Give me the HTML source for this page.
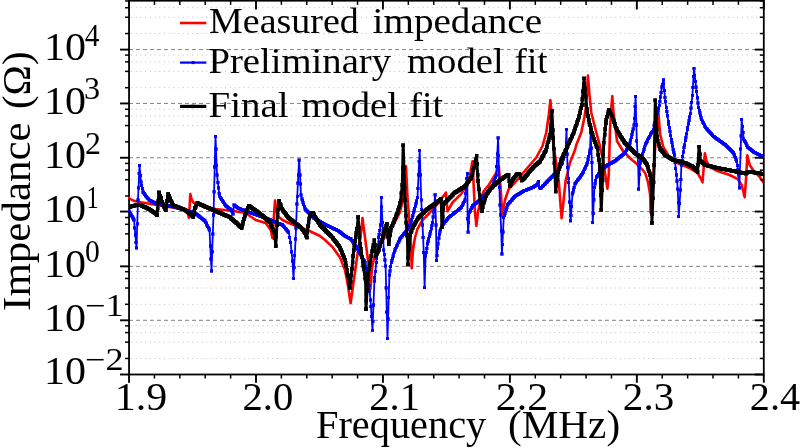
<!DOCTYPE html>
<html lang="en"><head><meta charset="utf-8"><title>Impedance vs frequency</title>
<style>html,body{margin:0;padding:0;background:#fff}svg{display:block}text{font-family:"Liberation Serif",serif;fill:#000}</style></head><body>
<svg width="800" height="448" viewBox="0 0 800 448">
<rect width="800" height="448" fill="#fff"/>
<defs><marker id="mb" markerUnits="userSpaceOnUse" markerWidth="3.4" markerHeight="3.4" refX="1.7" refY="1.7"><rect width="3.4" height="3.4" fill="#0000ff"/></marker><marker id="mk" markerUnits="userSpaceOnUse" markerWidth="4" markerHeight="4" refX="2" refY="2"><rect width="4" height="4" fill="#000"/></marker><clipPath id="cp"><rect x="129.05" y="0" width="634.75" height="374.50"/></clipPath></defs>
<g stroke="#c0c0c0" stroke-width="1" stroke-dasharray="1 3.7" fill="none">
<line x1="131.05" y1="358.45" x2="763.80" y2="358.45"/>
<line x1="131.05" y1="342.15" x2="763.80" y2="342.15"/>
<line x1="131.05" y1="332.61" x2="763.80" y2="332.61"/>
<line x1="131.05" y1="325.85" x2="763.80" y2="325.85"/>
<line x1="131.05" y1="304.30" x2="763.80" y2="304.30"/>
<line x1="131.05" y1="288.00" x2="763.80" y2="288.00"/>
<line x1="131.05" y1="278.46" x2="763.80" y2="278.46"/>
<line x1="131.05" y1="271.70" x2="763.80" y2="271.70"/>
<line x1="131.05" y1="250.15" x2="763.80" y2="250.15"/>
<line x1="131.05" y1="233.85" x2="763.80" y2="233.85"/>
<line x1="131.05" y1="224.31" x2="763.80" y2="224.31"/>
<line x1="131.05" y1="217.55" x2="763.80" y2="217.55"/>
<line x1="131.05" y1="196.00" x2="763.80" y2="196.00"/>
<line x1="131.05" y1="179.70" x2="763.80" y2="179.70"/>
<line x1="131.05" y1="170.16" x2="763.80" y2="170.16"/>
<line x1="131.05" y1="163.40" x2="763.80" y2="163.40"/>
<line x1="131.05" y1="141.85" x2="763.80" y2="141.85"/>
<line x1="131.05" y1="125.55" x2="763.80" y2="125.55"/>
<line x1="131.05" y1="116.01" x2="763.80" y2="116.01"/>
<line x1="131.05" y1="109.25" x2="763.80" y2="109.25"/>
<line x1="131.05" y1="87.70" x2="763.80" y2="87.70"/>
<line x1="131.05" y1="71.40" x2="763.80" y2="71.40"/>
<line x1="131.05" y1="61.86" x2="763.80" y2="61.86"/>
<line x1="131.05" y1="55.10" x2="763.80" y2="55.10"/>
<line x1="131.05" y1="33.55" x2="763.80" y2="33.55"/>
<line x1="131.05" y1="17.25" x2="763.80" y2="17.25"/>
<line x1="131.05" y1="7.71" x2="763.80" y2="7.71"/>
</g>
<g stroke="#808080" stroke-width="1" stroke-dasharray="3.9 3.1" fill="none">
<line x1="129.05" y1="320.30" x2="763.80" y2="320.30"/>
<line x1="129.05" y1="266.35" x2="763.80" y2="266.35"/>
<line x1="129.05" y1="211.55" x2="763.80" y2="211.55"/>
<line x1="129.05" y1="157.75" x2="763.80" y2="157.75"/>
<line x1="129.05" y1="103.45" x2="763.80" y2="103.45"/>
<line x1="129.05" y1="49.60" x2="763.80" y2="49.60"/>
</g>
<g clip-path="url(#cp)" fill="none" stroke-linejoin="round">
<polyline points="129.00,198.0 133.00,200.5 139.00,202.0 145.00,203.0 160.00,205.5 175.00,208.0 185.00,210.0 187.50,212.0 189.00,217.8 190.30,194.0 191.50,199.0 193.00,202.0 195.40,204.0 205.00,206.5 215.50,209.0 233.50,211.0 245.60,213.0 255.70,220.0 265.70,223.0 270.70,230.0 272.50,238.2 275.00,200.6 277.50,216.0 282.50,220.0 288.80,223.0 295.00,225.6 307.50,230.0 320.00,236.0 325.00,240.0 332.50,247.0 340.00,257.5 345.00,270.0 348.00,286.0 350.60,303.2 353.75,281.0 357.50,254.0 361.25,231.0 362.50,218.1 365.00,237.5 368.00,260.0 370.00,275.0 370.50,288.8 371.90,269.0 374.40,256.0 378.00,248.0 383.00,240.0 386.50,234.0 390.00,230.0 395.00,222.0 400.00,212.0 403.00,200.0 405.00,180.0 406.00,166.2 407.50,197.5 409.40,222.5 410.60,235.0 411.70,268.2 413.00,250.0 415.00,237.5 417.50,228.8 422.50,220.0 430.00,212.5 437.50,204.0 445.00,194.0 446.00,192.5 447.50,211.3 452.50,202.5 461.25,193.8 467.50,185.0 470.50,172.0 472.50,161.2 473.75,187.5 475.00,212.5 476.40,225.8 478.00,212.0 480.00,203.0 483.75,191.0 488.75,185.0 495.00,175.0 497.50,170.0 498.75,166.0 500.60,187.5 502.30,216.3 505.00,200.0 508.75,188.8 515.00,182.5 520.00,177.0 526.00,169.5 532.50,162.0 536.25,157.5 542.50,146.0 546.25,132.5 548.75,115.0 550.40,100.0 552.00,120.0 554.00,150.0 556.25,162.5 558.75,181.0 560.60,206.0 561.60,218.2 563.00,206.0 565.60,181.0 570.00,162.5 575.00,150.0 576.25,145.0 581.25,132.5 584.40,117.5 586.25,105.0 587.90,75.6 589.50,95.0 591.25,112.5 595.00,127.5 600.00,146.2 603.00,160.0 606.25,181.0 607.40,188.8 608.75,175.0 610.00,130.0 611.50,105.0 612.30,96.0 613.20,110.0 614.40,120.0 617.00,141.0 623.00,151.0 631.00,159.0 639.20,166.0 645.20,173.0 648.20,183.0 650.20,195.0 650.60,212.6 652.50,190.0 655.00,150.0 657.00,125.0 658.30,110.5 659.30,125.0 660.30,135.0 663.30,147.0 669.30,157.0 677.40,163.0 689.40,168.0 697.50,173.0 700.50,178.0 702.50,182.3 703.90,165.0 704.90,153.2 706.50,161.0 709.50,167.0 717.60,171.0 729.60,175.0 737.70,179.0 741.70,185.0 744.70,197.2 746.30,175.0 747.30,155.2 749.70,165.0 753.70,171.0 759.80,177.0 763.80,183.0" stroke="#ff0000" stroke-width="2.6"/>
<polyline points="129.00,211.0 129.63,212.1 130.27,213.3 130.90,214.4 131.54,215.6 132.17,216.7 132.81,217.9 133.44,219.0 134.00,220.0 134.71,228.0 135.35,235.1 135.98,242.2 136.50,247.9 137.25,223.8 138.00,200.0 138.52,187.9 139.16,173.2 139.50,165.4 140.43,175.7 141.00,182.0 141.70,185.5 142.33,188.7 143.00,192.0 143.60,192.8 144.24,193.7 144.87,194.5 145.51,195.3 146.14,196.2 146.78,197.0 147.41,197.9 148.05,198.7 149.00,200.0 149.95,200.5 150.59,200.8 151.22,201.1 151.86,201.4 152.49,201.7 153.13,202.1 153.76,202.4 154.40,202.7 155.03,203.0 155.67,203.3 156.30,203.7 157.00,204.0 157.57,204.1 158.21,204.2 158.84,204.3 159.48,204.4 160.11,204.5 160.75,204.6 161.38,204.7 162.02,204.8 162.65,204.9 163.29,205.0 163.92,205.2 164.56,205.3 165.19,205.4 165.83,205.5 166.46,205.6 167.10,205.7 167.73,205.8 168.37,205.9 169.00,206.0 169.64,206.1 170.27,206.2 170.91,206.3 171.54,206.4 172.18,206.5 172.81,206.6 173.45,206.7 174.08,206.8 175.00,207.0 175.35,207.1 175.99,207.3 176.62,207.5 177.26,207.7 177.89,207.9 178.53,208.1 179.16,208.2 179.80,208.4 180.43,208.6 181.07,208.8 181.70,209.0 182.34,209.2 182.97,209.4 183.61,209.6 184.24,209.8 184.88,210.0 185.51,210.2 186.15,210.3 186.78,210.5 187.42,210.7 188.05,210.9 188.69,211.1 189.32,211.3 189.96,211.5 190.59,211.7 191.23,211.9 191.86,212.1 192.50,212.2 193.13,212.4 193.77,212.6 194.40,212.8 195.00,213.0 195.67,213.5 196.31,214.0 196.94,214.6 197.58,215.1 198.21,215.6 198.85,216.1 199.48,216.6 200.12,217.1 200.75,217.6 201.39,218.1 202.02,218.6 202.66,219.1 203.29,219.6 203.93,220.1 204.56,220.7 205.00,221.0 205.83,222.7 206.47,223.9 207.10,225.2 207.74,226.5 208.37,227.7 209.01,229.0 209.50,230.0 210.28,246.0 210.91,259.0 211.50,271.0 212.18,251.8 212.82,234.0 213.50,215.0 214.09,191.8 214.72,166.9 215.50,136.4 215.99,149.1 216.63,165.5 217.00,175.0 217.90,182.6 218.53,187.9 219.17,193.2 219.50,196.0 220.44,197.5 221.07,198.5 221.71,199.5 222.34,200.5 222.98,201.5 223.61,202.5 224.25,203.5 224.88,204.5 225.50,205.5 226.15,206.0 226.79,206.5 227.42,206.9 228.06,207.4 228.69,207.9 229.33,208.4 229.96,208.8 230.60,209.3 231.50,210.0 231.87,211.0 232.50,212.7 233.00,214.0 234.00,205.0 234.41,205.3 235.04,205.8 235.68,206.3 236.31,206.7 236.95,207.2 237.58,207.7 238.00,208.0 238.85,208.3 239.49,208.6 240.12,208.8 240.76,209.1 241.39,209.3 242.03,209.6 242.66,209.8 243.30,210.1 243.93,210.3 244.57,210.6 245.20,210.8 245.60,211.0 246.47,211.3 247.11,211.5 247.74,211.7 248.38,212.0 249.01,212.2 249.65,212.4 250.28,212.6 250.92,212.9 251.55,213.1 252.19,213.3 252.82,213.5 253.46,213.7 254.09,214.0 254.73,214.2 255.36,214.4 256.00,214.6 256.63,214.8 257.27,215.1 257.90,215.3 258.54,215.5 259.17,215.7 259.81,215.9 260.44,216.2 261.08,216.4 261.71,216.6 262.35,216.8 262.98,217.1 263.62,217.3 264.25,217.5 264.89,217.7 265.70,218.0 266.16,218.2 266.79,218.5 267.43,218.7 268.06,219.0 268.70,219.3 269.33,219.6 269.97,219.8 270.60,220.1 271.24,220.4 271.87,220.7 272.51,220.9 273.14,221.2 273.78,221.5 274.41,221.7 275.00,222.0 275.68,222.3 276.32,222.5 276.95,222.8 277.59,223.0 278.22,223.3 278.86,223.5 279.49,223.8 280.13,224.1 280.76,224.3 281.40,224.6 282.03,224.8 282.50,225.0 283.30,226.0 283.94,226.7 284.57,227.5 285.21,228.2 285.84,229.0 286.48,229.7 287.11,230.5 287.75,231.2 288.38,232.0 288.80,232.5 289.65,237.2 290.60,242.5 291.56,251.8 292.50,261.0 293.50,278.6 294.10,267.3 294.73,255.3 295.60,239.0 296.00,228.1 296.90,204.0 297.27,196.2 297.91,183.1 298.30,175.0 299.10,160.1 300.00,175.0 300.45,184.0 301.00,195.0 302.00,199.0 302.35,200.2 302.99,202.2 303.62,204.3 304.26,206.4 305.00,208.8 305.53,209.4 306.16,210.1 307.00,211.0 307.43,211.4 308.07,212.1 308.70,212.8 309.34,213.4 309.97,214.1 310.61,214.7 311.24,215.4 311.88,216.0 312.51,216.7 313.15,217.3 313.80,218.0 314.42,218.4 315.05,218.7 315.69,219.1 316.32,219.4 316.96,219.8 317.59,220.2 318.23,220.5 318.86,220.9 319.50,221.3 320.13,221.6 320.77,222.0 321.40,222.4 322.04,222.7 322.67,223.1 323.31,223.5 323.94,223.8 324.58,224.2 325.21,224.5 326.00,225.0 326.48,225.2 327.12,225.5 327.75,225.8 328.39,226.1 329.02,226.4 329.66,226.7 330.29,227.0 330.93,227.3 331.56,227.6 332.20,227.9 332.83,228.2 333.47,228.5 334.10,228.8 334.74,229.1 335.37,229.4 336.01,229.7 336.64,230.0 337.28,230.3 337.91,230.6 338.80,231.0 339.18,231.3 339.82,231.8 340.45,232.3 341.09,232.8 341.72,233.4 342.36,233.9 342.99,234.4 343.63,234.9 344.26,235.4 345.00,236.0 345.53,236.3 346.17,236.6 346.80,236.9 347.44,237.2 348.07,237.5 348.71,237.9 349.34,238.2 349.98,238.5 350.61,238.8 351.00,239.0 351.88,240.3 352.52,241.3 353.15,242.2 353.79,243.2 354.42,244.1 355.06,245.1 355.69,246.0 356.33,247.0 356.96,247.9 357.50,248.8 358.23,250.1 358.87,251.3 359.50,252.4 360.14,253.6 360.77,254.8 361.41,255.9 362.04,257.1 362.68,258.2 363.31,259.4 363.95,260.6 364.58,261.7 365.00,262.5 365.85,266.1 366.49,268.7 367.12,271.4 368.00,275.0 368.39,278.9 369.03,285.3 369.66,291.6 370.50,300.0 370.93,306.6 371.57,316.2 372.50,330.2 372.84,321.4 373.47,305.0 374.40,281.0 374.74,277.6 375.38,271.2 376.25,262.5 376.65,258.5 377.28,252.2 377.92,245.8 378.75,237.5 379.19,234.5 379.82,230.2 380.60,225.0 381.25,197.3 381.73,207.0 382.50,222.5 383.00,233.5 383.75,250.0 384.27,254.5 384.90,260.0 385.60,266.0 386.17,287.9 386.81,312.1 387.50,338.4 388.08,319.0 388.71,297.8 389.40,275.0 389.98,271.0 390.62,266.8 391.25,262.5 391.89,260.4 392.52,258.3 393.16,256.1 393.79,254.0 394.43,251.9 395.00,250.0 395.70,248.4 396.33,247.0 396.97,245.6 397.60,244.1 398.24,242.7 398.87,241.3 399.51,239.9 400.00,238.8 400.78,237.8 401.41,237.0 402.05,236.2 402.68,235.4 403.32,234.6 403.95,233.8 404.59,233.1 405.22,232.3 405.86,231.5 406.25,231.0 407.13,229.6 407.76,228.6 408.40,227.6 409.03,226.5 409.67,225.5 410.00,225.0 410.94,221.9 411.57,219.8 412.21,217.6 412.84,215.5 413.75,212.5 414.11,211.0 414.75,208.5 415.38,206.0 416.02,203.4 416.65,200.9 417.50,197.5 417.92,188.4 418.56,174.8 419.19,161.2 419.70,150.4 420.46,174.9 421.25,200.0 421.73,209.7 422.50,225.0 423.10,237.5 423.75,252.5 424.60,287.6 425.60,256.0 426.18,252.3 426.81,248.2 427.50,243.8 428.08,241.4 428.72,238.9 429.35,236.3 429.99,233.8 430.62,231.3 431.25,228.8 431.89,225.5 432.50,222.5 433.16,216.9 433.75,212.0 434.43,203.3 435.10,194.8 436.00,225.0 436.50,260.6 436.97,255.3 437.61,248.1 438.00,243.8 438.88,238.1 439.51,234.1 440.00,231.0 440.78,229.1 441.42,227.6 442.05,226.1 442.50,225.0 443.32,224.0 443.96,223.2 444.59,222.5 445.23,221.7 445.86,221.0 446.50,220.2 447.13,219.4 447.77,218.7 448.40,217.9 448.75,217.5 449.67,216.8 450.31,216.3 450.94,215.7 451.58,215.2 452.21,214.7 452.85,214.2 453.48,213.7 454.12,213.2 454.75,212.7 455.39,212.2 456.02,211.7 456.66,211.2 457.29,210.7 457.93,210.2 458.56,209.6 459.20,209.1 459.83,208.6 460.47,208.1 461.25,207.5 461.74,206.5 462.37,205.3 463.01,204.0 463.64,202.7 464.28,201.4 465.00,200.0 465.55,193.5 466.18,186.0 466.82,178.5 467.25,173.4 467.60,218.8 468.10,232.1 468.72,222.7 469.40,212.5 469.99,211.3 470.63,209.9 471.26,208.6 471.90,207.3 472.50,206.0 473.17,205.5 473.80,205.0 474.44,204.4 475.07,203.9 475.71,203.4 476.34,202.9 476.98,202.4 477.61,201.9 478.25,201.4 478.88,200.9 479.52,200.4 480.00,200.0 480.79,199.2 481.42,198.6 482.06,197.9 482.69,197.3 483.33,196.7 483.96,196.0 484.60,195.4 485.23,194.8 485.87,194.1 486.25,193.8 487.14,192.7 487.77,191.9 488.41,191.2 489.04,190.4 489.68,189.6 490.31,188.9 490.95,188.1 491.58,187.3 492.50,186.2 492.85,185.2 493.49,183.3 494.12,181.4 494.76,179.5 495.39,177.6 496.25,175.0 496.66,166.7 497.30,153.9 498.10,137.9 498.57,155.8 499.40,187.5 500.00,205.0 500.47,214.9 501.25,231.0 501.90,254.0 502.38,244.5 503.01,232.0 503.75,217.5 504.28,215.7 504.92,213.6 505.55,211.5 506.19,209.4 506.82,207.3 507.50,205.0 508.09,204.3 508.73,203.6 509.36,202.8 510.00,202.1 510.63,201.3 511.27,200.6 511.90,199.9 512.54,199.1 513.17,198.4 513.81,197.6 514.44,196.9 515.00,196.2 515.71,195.8 516.35,195.4 516.98,195.1 517.62,194.7 518.25,194.3 518.89,193.9 519.52,193.5 520.16,193.2 520.79,192.8 521.43,192.4 522.06,192.0 522.70,191.6 523.33,191.2 523.75,191.0 524.60,190.7 525.24,190.4 525.87,190.2 526.51,189.9 527.14,189.6 527.78,189.4 528.41,189.1 529.05,188.9 529.68,188.6 530.32,188.4 530.95,188.1 531.59,187.9 532.50,187.5 532.86,187.3 533.49,186.9 534.13,186.5 534.76,186.1 535.40,185.8 536.03,185.4 536.67,185.0 537.50,184.5 537.94,183.0 538.40,181.5 539.50,187.5 539.84,187.8 540.50,188.5 541.11,187.9 541.75,187.2 542.38,186.6 543.02,185.9 543.65,185.3 544.29,184.6 544.92,184.0 545.56,183.3 546.19,182.7 546.83,182.0 547.46,181.4 548.10,180.7 548.73,180.1 549.37,179.4 550.00,178.8 550.64,178.1 551.25,177.5 551.91,176.8 552.54,176.2 553.18,175.6 553.81,174.9 554.45,174.3 555.08,173.7 555.72,173.0 556.35,172.4 556.99,171.8 557.50,171.2 558.26,169.9 558.89,168.8 559.53,167.7 560.16,166.6 560.80,165.5 561.43,164.4 562.07,163.3 562.50,162.5 563.34,159.1 563.97,156.6 564.61,154.0 565.24,151.4 565.60,150.0 566.50,129.2 567.15,154.1 567.50,167.5 568.42,178.5 568.75,182.5 569.69,202.0 570.60,220.8 570.96,215.7 571.59,206.7 572.50,193.8 572.86,192.3 573.50,189.8 574.13,187.2 575.00,183.8 575.40,183.2 576.04,182.4 576.67,181.5 577.31,180.7 577.94,179.8 578.58,179.0 579.21,178.1 579.85,177.3 580.48,176.4 581.12,175.6 581.75,174.7 582.50,173.8 583.02,172.6 583.66,171.1 584.29,169.7 584.93,168.3 585.56,166.9 586.20,165.4 586.83,164.0 587.50,162.5 588.10,159.5 588.74,156.3 589.37,153.1 590.00,150.0 590.60,132.4 591.28,148.1 591.90,162.5 592.75,222.6 593.18,213.3 593.82,199.8 594.40,187.5 595.09,183.8 595.72,180.3 596.25,177.5 596.99,176.4 597.63,175.4 598.26,174.5 598.90,173.5 599.53,172.6 600.17,171.6 600.80,170.7 601.25,170.0 602.07,169.3 602.71,168.8 603.34,168.3 603.98,167.8 604.61,167.3 605.25,166.8 605.88,166.3 606.52,165.8 607.15,165.3 607.50,165.0 608.42,164.5 609.06,164.2 609.69,163.8 610.33,163.5 610.96,163.2 611.60,162.8 612.23,162.5 612.87,162.1 613.50,161.8 614.14,161.5 615.00,161.0 615.41,160.7 616.04,160.2 616.68,159.7 617.31,159.1 617.95,158.6 618.58,158.1 619.22,157.6 619.85,157.1 620.49,156.6 621.12,156.1 621.76,155.6 622.39,155.1 623.03,154.6 623.66,154.1 624.30,153.6 625.00,153.0 625.57,151.9 626.20,150.6 626.84,149.3 627.47,148.1 628.11,146.8 628.74,145.5 629.38,144.2 630.00,143.0 630.65,140.1 631.28,137.4 631.92,134.6 632.55,131.8 633.19,129.0 634.10,125.0 634.46,118.2 635.09,106.2 635.60,96.6 636.36,124.9 636.80,141.0 637.63,155.3 638.20,165.0 638.70,189.1 639.54,174.5 640.20,163.0 640.81,160.8 641.44,158.5 642.08,156.2 642.71,153.9 643.35,151.7 643.98,149.4 644.62,147.1 645.20,145.0 645.89,143.7 646.52,142.4 647.16,141.2 647.79,139.9 648.43,138.7 649.06,137.5 649.70,136.2 650.33,135.0 650.97,133.7 651.60,132.5 652.24,131.3 653.20,129.4 654.14,125.7 654.78,123.1 655.41,120.6 656.05,118.1 656.68,115.6 657.32,113.1 657.95,110.6 658.59,108.1 659.30,105.2 659.86,101.3 660.49,96.9 661.13,92.4 661.90,87.0 662.40,84.5 663.30,79.9 663.67,83.8 664.30,90.6 664.94,97.4 665.30,101.2 666.21,107.3 666.84,111.6 667.48,115.8 668.30,121.3 668.75,124.0 669.38,127.8 670.02,131.7 670.65,135.5 671.30,139.4 671.92,142.6 672.56,146.0 673.19,149.3 673.83,152.6 674.30,155.0 675.10,162.6 675.73,168.7 676.40,175.0 677.00,181.0 677.80,189.0 678.27,202.7 678.75,216.5 679.54,203.7 680.40,190.0 680.81,179.6 681.40,165.0 682.08,160.4 682.72,156.2 683.35,152.0 683.99,147.7 684.40,145.0 685.26,140.5 685.89,137.2 686.53,133.9 687.40,129.4 687.80,127.3 688.43,123.8 689.07,120.4 689.70,117.0 690.40,113.3 690.97,108.1 691.61,102.3 692.40,95.2 692.88,87.2 693.51,76.5 694.00,68.4 694.78,75.6 695.42,81.4 696.05,87.1 696.50,91.2 697.32,97.8 697.96,103.0 698.50,107.3 699.23,110.2 699.86,112.8 700.50,115.3 701.13,117.8 701.50,119.3 702.40,121.1 703.04,122.4 703.67,123.7 704.31,125.0 704.94,126.3 705.50,127.4 706.21,128.2 706.85,128.9 707.48,129.6 708.12,130.3 708.75,131.1 709.39,131.8 710.02,132.5 710.66,133.2 711.29,133.9 711.93,134.6 712.56,135.3 713.50,136.4 713.83,136.6 714.47,137.1 715.10,137.5 715.74,138.0 716.37,138.4 717.01,138.9 717.64,139.3 718.28,139.8 718.91,140.2 719.55,140.7 720.18,141.2 720.82,141.6 721.45,142.1 722.09,142.5 722.72,143.0 723.36,143.4 723.99,143.9 724.63,144.3 725.26,144.8 725.60,145.0 726.53,145.9 727.17,146.6 727.80,147.2 728.44,147.8 729.07,148.5 729.71,149.1 730.34,149.7 730.98,150.4 731.61,151.0 732.25,151.6 732.88,152.3 733.60,153.0 734.15,154.4 734.79,156.1 735.42,157.7 736.06,159.3 736.70,161.0 737.33,165.4 737.96,169.9 738.70,175.0 739.30,187.9 739.87,172.1 740.70,149.0 741.14,135.9 741.70,119.3 742.41,126.3 743.04,132.5 743.70,139.0 744.31,140.2 744.95,141.5 745.58,142.8 746.22,144.0 746.85,145.3 747.70,147.0 748.12,147.4 748.76,147.9 749.39,148.4 750.03,148.9 750.66,149.5 751.30,150.0 751.93,150.5 752.57,151.1 753.20,151.6 753.70,152.0 754.47,152.4 755.11,152.7 755.74,153.0 756.38,153.3 757.01,153.6 757.65,154.0 758.28,154.3 758.92,154.6 759.55,154.9 760.19,155.2 760.82,155.5 761.46,155.8 762.09,156.2 762.73,156.5 763.36,156.8 763.80,157.0" stroke="#0000ff" stroke-width="1.8" marker-start="url(#mb)" marker-mid="url(#mb)" marker-end="url(#mb)"/>
<polyline points="129.00,207.0 129.63,206.8 130.27,206.7 130.90,206.5 131.54,206.4 132.17,206.2 132.81,206.0 133.44,205.9 134.08,205.7 134.71,205.6 135.35,205.4 135.98,205.3 136.62,205.1 137.25,204.9 137.89,204.8 138.52,204.6 139.00,204.5 139.79,204.9 140.43,205.1 141.06,205.4 141.70,205.7 142.33,206.0 142.97,206.3 143.60,206.6 144.24,206.9 144.87,207.1 145.51,207.4 146.14,207.7 146.78,208.0 147.41,208.3 148.05,208.6 149.00,209.0 149.95,209.6 150.59,210.1 151.22,210.5 151.86,210.9 152.49,211.3 153.13,211.8 153.76,212.2 154.40,212.6 155.00,213.0 155.67,213.7 156.30,214.3 157.00,215.0 157.57,208.5 158.21,201.3 159.00,192.4 159.48,193.7 160.11,195.5 161.00,198.0 161.38,199.3 162.02,201.6 162.65,203.8 163.00,205.0 163.92,206.7 164.56,207.8 165.19,208.9 165.80,210.0 166.46,205.5 167.10,201.1 167.73,196.8 168.20,193.6 169.00,196.0 169.64,197.9 170.00,199.0 170.91,200.8 171.54,202.1 172.18,203.4 173.00,205.0 173.45,205.2 174.08,205.5 174.72,205.7 175.35,206.0 175.99,206.3 176.62,206.6 177.26,206.8 177.89,207.1 178.53,207.4 179.16,207.6 180.00,208.0 180.43,208.2 181.07,208.4 181.70,208.7 182.34,208.9 182.97,209.2 183.61,209.4 184.24,209.7 185.00,210.0 185.51,210.4 186.15,210.8 186.78,211.2 187.42,211.7 188.05,212.1 188.69,212.6 189.32,213.0 190.00,213.5 190.59,214.1 191.23,214.8 191.86,215.5 192.50,216.2 193.30,217.0 193.77,214.5 194.40,211.2 195.00,208.0 195.67,206.6 196.31,205.3 196.94,203.9 197.40,203.0 198.21,203.4 198.85,203.7 199.48,204.0 200.12,204.3 200.75,204.5 201.39,204.8 202.02,205.1 202.66,205.4 203.29,205.7 203.93,206.0 204.56,206.3 205.00,206.5 205.83,206.9 206.47,207.1 207.10,207.4 207.74,207.7 208.37,207.9 209.01,208.2 209.64,208.5 210.28,208.8 210.91,209.0 211.55,209.3 212.18,209.6 212.82,209.9 213.45,210.1 214.09,210.4 214.72,210.7 215.50,211.0 215.99,211.2 216.63,211.5 217.26,211.8 217.90,212.0 218.53,212.3 219.17,212.6 219.80,212.8 220.44,213.1 221.07,213.4 221.71,213.7 222.34,213.9 222.98,214.2 223.61,214.5 224.25,214.7 224.88,215.0 225.52,215.3 226.15,215.6 226.79,215.8 227.42,216.1 228.06,216.4 228.69,216.7 229.50,217.0 229.96,217.4 230.60,218.0 231.23,218.5 231.87,219.0 232.50,219.6 233.14,220.1 233.77,220.7 234.41,221.2 235.04,221.8 235.68,222.3 236.31,222.9 236.95,223.4 237.60,224.0 238.22,224.6 238.85,225.3 239.49,225.9 240.12,226.5 240.76,227.2 241.60,228.0 242.03,226.4 242.66,223.9 243.30,221.5 243.93,219.1 244.57,216.6 245.00,215.0 245.84,212.8 246.47,211.2 247.11,209.5 247.74,207.9 248.60,205.7 249.01,206.0 249.65,206.4 250.28,206.8 250.92,207.3 251.55,207.7 252.19,208.1 252.82,208.5 253.46,209.0 254.09,209.4 255.00,210.0 255.36,210.3 256.00,210.7 256.63,211.2 257.27,211.7 257.90,212.2 258.54,212.6 259.17,213.1 259.81,213.6 260.44,214.1 261.08,214.5 261.70,215.0 262.35,215.6 262.98,216.1 263.62,216.7 264.25,217.2 264.89,217.8 265.52,218.3 266.16,218.9 266.79,219.5 267.43,220.0 268.06,220.6 268.70,221.1 269.33,221.7 269.70,222.0 270.60,224.2 271.24,225.7 271.87,227.2 272.51,228.7 273.14,230.3 273.78,231.8 274.70,234.0 275.05,237.8 275.80,246.0 276.32,236.5 276.95,224.9 277.50,215.0 278.22,209.0 278.86,203.7 279.20,200.9 280.13,203.5 280.76,205.2 281.40,207.0 282.03,208.7 282.50,210.0 283.30,211.0 283.94,211.8 284.57,212.6 285.21,213.4 285.84,214.2 286.48,215.1 287.11,215.9 287.75,216.7 288.38,217.5 288.80,218.0 289.65,218.7 290.29,219.2 290.92,219.7 291.56,220.1 292.19,220.6 292.83,221.1 293.46,221.6 294.10,222.1 294.73,222.6 295.37,223.1 296.00,223.6 296.64,224.1 297.27,224.6 297.91,225.1 298.54,225.6 299.18,226.1 299.81,226.6 300.45,227.1 301.00,227.5 301.72,228.5 302.35,229.4 302.99,230.2 303.62,231.1 304.26,232.0 305.00,233.0 305.53,234.3 306.16,235.8 306.90,237.5 307.43,232.3 308.07,226.2 308.50,222.0 309.34,218.4 309.97,215.7 310.60,213.0 311.24,213.0 311.88,213.0 312.51,213.0 313.00,213.0 313.78,214.3 314.42,215.4 315.05,216.5 315.69,217.6 316.32,218.7 316.96,219.8 317.59,220.9 318.23,222.0 318.86,223.1 319.50,224.1 320.00,225.0 320.77,225.8 321.40,226.4 322.04,227.0 322.67,227.7 323.31,228.3 323.94,228.9 324.58,229.6 325.00,230.0 325.85,230.8 326.48,231.5 327.12,232.1 327.75,232.8 328.39,233.4 329.02,234.0 329.66,234.7 330.29,235.3 330.93,235.9 331.56,236.6 332.50,237.5 332.83,237.9 333.47,238.8 334.10,239.6 334.74,240.5 335.37,241.3 336.01,242.2 336.64,243.0 337.28,243.9 337.91,244.7 338.55,245.6 339.18,246.4 340.00,247.5 340.45,248.6 341.09,250.2 341.72,251.8 342.36,253.4 342.99,255.0 343.63,256.6 344.26,258.2 345.00,260.0 345.53,262.8 346.17,266.2 346.80,269.5 347.44,272.8 348.07,276.2 348.80,280.0 349.34,283.6 350.00,287.9 350.61,281.7 351.25,275.3 351.88,268.8 352.52,262.4 353.15,256.0 353.75,250.0 354.42,245.5 355.06,241.3 355.69,237.0 356.33,232.8 356.96,228.6 357.50,225.0 358.10,217.1 358.87,227.9 359.50,236.8 360.00,243.8 360.77,248.9 361.41,253.1 362.04,257.4 362.68,261.6 363.31,265.8 363.75,268.8 364.58,274.3 365.22,278.5 365.60,281.0 366.00,309.1 366.49,300.7 367.12,289.9 368.00,275.0 368.39,272.7 369.03,269.0 369.66,265.3 370.30,261.6 371.25,256.0 372.20,251.2 372.84,248.1 373.47,244.9 374.40,240.2 374.74,244.8 375.60,256.0 376.01,255.2 376.65,254.0 377.28,252.8 377.92,251.6 378.75,250.0 379.19,248.5 379.82,246.4 380.46,244.3 381.09,242.2 381.73,240.1 382.50,237.5 383.00,235.8 383.63,233.6 384.27,231.5 385.00,229.0 385.54,227.5 386.17,225.8 386.90,223.8 387.44,229.7 388.08,236.7 388.75,244.1 389.35,239.8 389.98,235.3 390.62,230.7 391.00,228.0 391.89,226.2 392.50,225.0 393.16,223.4 393.79,221.8 394.43,220.2 395.06,218.6 395.70,217.0 396.33,215.4 396.97,213.8 397.50,212.5 398.24,209.8 398.87,207.4 399.51,205.0 400.14,202.7 400.60,201.0 401.41,193.3 402.30,185.0 402.68,168.0 403.20,145.2 403.95,168.2 404.59,187.5 405.00,200.0 405.86,215.5 406.25,222.5 407.13,235.5 407.50,241.0 407.90,264.5 408.40,257.6 409.03,248.8 409.40,243.8 410.00,235.0 410.94,232.4 411.57,230.6 412.50,228.0 412.84,227.4 413.48,226.2 414.11,225.0 414.75,223.8 415.38,222.7 416.02,221.5 416.65,220.3 417.50,218.8 417.92,218.3 418.56,217.7 419.19,217.1 419.83,216.4 420.46,215.8 421.10,215.2 421.73,214.5 422.37,213.9 423.00,213.2 423.64,212.6 424.27,212.0 424.91,211.3 425.54,210.7 426.25,210.0 426.81,209.6 427.45,209.1 428.08,208.7 428.72,208.2 429.35,207.8 429.99,207.3 430.62,206.9 431.26,206.4 431.89,206.0 432.53,205.5 433.16,205.1 433.80,204.6 434.43,204.2 435.00,203.8 435.70,203.2 436.34,202.7 436.97,202.2 437.61,201.8 438.24,201.3 438.88,200.8 439.51,200.3 440.15,199.8 440.78,199.4 441.25,199.0 441.90,227.2 442.69,217.2 443.32,209.1 443.75,203.8 444.59,202.9 445.23,202.3 445.86,201.6 446.50,201.0 447.13,200.4 447.77,199.7 448.40,199.1 449.04,198.5 449.67,197.8 450.31,197.2 450.94,196.6 451.58,195.9 452.21,195.3 452.85,194.7 453.48,194.0 454.12,193.4 455.00,192.5 455.39,192.3 456.02,191.9 456.66,191.5 457.29,191.1 457.93,190.7 458.56,190.3 459.20,189.9 459.83,189.5 460.47,189.1 461.10,188.7 461.74,188.3 462.37,187.9 463.01,187.5 463.64,187.1 464.28,186.7 465.00,186.2 465.55,185.5 466.18,184.6 466.82,183.7 467.45,182.8 468.09,181.9 468.72,181.0 469.36,180.1 469.99,179.3 470.63,178.4 471.25,177.5 471.90,175.0 472.53,172.6 473.17,170.1 473.80,167.7 474.50,165.0 475.07,162.4 475.71,159.5 476.50,155.9 476.98,163.9 477.61,174.6 478.00,181.0 478.88,189.4 479.52,195.4 480.00,200.0 480.79,204.6 481.42,208.2 481.90,211.0 482.69,207.0 483.50,203.0 483.96,201.7 484.60,199.9 485.23,198.0 485.87,196.2 486.30,195.0 487.14,193.7 487.77,192.8 488.41,191.8 489.04,190.9 489.68,189.9 490.30,189.0 490.95,188.4 491.58,187.8 492.22,187.2 492.85,186.6 493.49,186.0 494.12,185.4 494.76,184.8 495.39,184.2 496.03,183.6 496.66,183.0 497.30,182.4 497.93,181.8 498.30,181.5 499.20,180.8 499.84,180.4 500.47,179.9 501.11,179.4 501.74,178.9 502.38,178.5 503.01,178.0 503.65,177.5 504.28,177.0 505.00,176.5 505.55,176.2 506.19,175.8 506.82,175.5 507.46,175.1 508.09,174.7 508.50,174.5 509.36,181.1 510.00,186.0 510.63,184.5 511.27,183.0 511.90,181.4 512.50,180.0 513.17,179.1 513.81,178.3 514.44,177.5 515.08,176.6 515.71,175.8 516.35,175.0 516.98,174.2 517.50,173.5 518.25,173.8 518.89,174.1 519.52,174.3 520.00,174.5 520.79,177.7 521.50,180.5 522.06,180.0 522.70,179.5 523.33,179.0 524.00,178.5 524.60,177.7 525.24,177.0 525.87,176.2 526.51,175.4 527.14,174.6 527.78,173.8 528.41,173.0 529.05,172.2 530.00,171.0 530.95,169.9 531.59,169.3 532.22,168.6 532.86,167.9 533.49,167.2 534.13,166.5 535.00,165.5 535.40,165.2 536.03,164.7 536.67,164.2 537.30,163.7 537.94,163.1 538.57,162.6 539.21,162.1 540.00,161.5 540.48,160.6 541.11,159.4 541.75,158.1 542.38,156.9 543.02,155.7 543.65,154.5 544.29,153.3 544.92,152.0 545.56,150.8 546.25,149.5 546.83,147.3 547.46,144.8 548.10,142.3 548.73,139.9 549.37,137.4 550.00,135.0 550.64,126.0 551.25,117.5 551.90,110.9 552.75,130.0 553.18,138.1 553.75,148.8 554.45,163.4 555.00,175.0 555.70,191.5 556.35,185.5 556.99,179.7 557.50,175.0 558.26,172.0 558.89,169.4 559.53,166.9 560.16,164.3 560.80,161.8 561.25,160.0 562.07,158.2 562.70,156.8 563.34,155.4 563.97,154.0 564.61,152.6 565.24,151.2 565.88,149.8 566.51,148.4 567.15,147.0 567.50,146.2 568.42,144.2 569.05,142.8 569.69,141.4 570.32,140.0 570.96,138.6 571.59,137.2 572.23,135.8 572.86,134.4 573.75,132.5 574.13,131.3 574.77,129.4 575.40,127.5 576.04,125.6 576.67,123.7 577.31,121.8 577.94,119.9 578.75,117.5 579.21,115.7 579.85,113.1 580.48,110.6 581.12,108.1 581.90,105.0 582.39,99.1 583.02,91.4 583.66,83.7 584.10,78.4 584.93,88.7 585.56,96.5 586.25,105.0 586.83,108.5 587.47,112.3 588.10,116.1 588.75,120.0 589.37,122.5 590.01,125.0 590.64,127.6 591.28,130.1 591.91,132.7 592.50,135.0 593.18,136.9 593.82,138.6 594.45,140.4 595.09,142.1 595.72,143.9 596.36,145.6 596.99,147.4 597.50,148.8 598.26,154.9 598.90,159.9 599.53,165.0 600.00,168.8 600.80,195.2 601.25,209.8 602.07,190.1 602.50,180.0 603.34,154.7 603.75,142.5 604.61,134.7 605.25,129.0 605.88,123.3 606.25,120.0 607.15,116.7 607.79,114.4 608.42,112.1 609.00,110.0 609.69,111.5 610.33,112.8 610.96,114.2 611.60,115.6 612.50,117.5 612.87,118.6 613.50,120.4 614.14,122.2 614.77,124.0 615.41,125.9 616.04,127.7 616.50,129.0 617.31,130.4 617.95,131.5 618.58,132.6 619.22,133.7 620.00,135.0 620.49,135.8 621.12,136.8 621.76,137.8 622.39,138.8 623.03,139.8 623.66,140.9 624.30,141.9 625.00,143.0 625.57,143.6 626.20,144.2 626.84,144.8 627.47,145.5 628.11,146.1 628.74,146.7 629.38,147.4 630.01,148.0 630.65,148.6 631.28,149.3 631.92,149.9 632.55,150.6 633.19,151.2 633.82,151.8 634.46,152.5 635.00,153.0 635.73,153.5 636.36,154.0 637.00,154.5 637.63,154.9 638.27,155.4 638.90,155.9 639.54,156.3 640.17,156.8 640.81,157.3 641.44,157.7 642.08,158.2 642.71,158.6 643.20,159.0 643.98,160.2 644.62,161.1 645.25,162.1 645.89,163.0 646.52,164.0 647.20,165.0 647.79,167.0 648.43,169.1 649.06,171.2 649.70,173.3 650.20,175.0 650.97,182.7 651.60,189.0 651.90,222.9 652.24,214.3 652.87,198.4 653.51,182.4 654.20,165.0 654.78,129.3 655.25,100.3 656.30,125.0 656.68,129.4 657.32,136.7 657.70,141.0 658.59,143.7 659.22,145.7 659.86,147.6 660.30,149.0 661.13,150.0 661.76,150.8 662.40,151.5 663.03,152.3 663.67,153.0 664.30,153.8 664.94,154.6 665.30,155.0 666.21,155.6 666.84,156.0 667.48,156.4 668.11,156.8 668.75,157.2 669.38,157.6 670.02,157.9 670.65,158.3 671.29,158.7 671.92,159.1 672.56,159.5 673.30,160.0 673.83,160.1 674.46,160.3 675.10,160.4 675.73,160.6 676.37,160.8 677.00,160.9 677.64,161.1 678.27,161.2 678.91,161.4 679.54,161.5 680.18,161.7 680.81,161.9 681.45,162.0 682.08,162.2 682.72,162.3 683.35,162.5 683.99,162.7 684.62,162.8 685.40,163.0 685.89,163.2 686.53,163.6 687.16,163.9 687.80,164.2 688.43,164.5 689.07,164.8 689.70,165.2 690.34,165.5 690.97,165.8 691.61,166.1 692.24,166.4 692.88,166.7 693.40,167.0 694.15,167.9 694.78,168.7 695.42,169.5 696.05,170.2 696.69,171.0 697.50,172.0 697.96,164.7 698.59,154.5 699.10,146.5 699.86,154.4 700.50,161.0 701.13,161.5 701.77,162.0 702.40,162.5 703.04,163.0 703.67,163.5 704.31,164.0 704.94,164.6 705.50,165.0 706.21,165.2 706.85,165.3 707.48,165.5 708.12,165.6 708.75,165.8 709.39,166.0 710.02,166.1 710.66,166.3 711.29,166.4 711.93,166.6 712.56,166.8 713.20,166.9 713.83,167.1 714.47,167.2 715.10,167.4 715.74,167.5 716.37,167.7 717.01,167.9 717.60,168.0 718.28,168.1 718.91,168.2 719.55,168.4 720.18,168.5 720.82,168.6 721.45,168.7 722.09,168.8 722.72,169.0 723.36,169.1 723.99,169.2 724.63,169.3 725.26,169.4 725.90,169.6 726.53,169.7 727.17,169.8 727.80,169.9 728.44,170.0 729.07,170.2 729.71,170.3 730.34,170.4 730.98,170.5 731.61,170.6 732.25,170.7 732.88,170.9 733.60,171.0 734.15,171.1 734.79,171.3 735.42,171.4 736.06,171.5 736.69,171.7 737.33,171.8 737.96,171.9 738.60,172.1 739.23,172.2 739.87,172.3 740.50,172.5 741.14,172.6 741.77,172.8 742.41,172.9 743.04,173.0 743.68,173.2 744.31,173.3 744.95,173.4 745.70,173.6 746.22,173.3 746.85,172.8 747.49,172.4 748.12,172.0 748.70,171.6 749.39,171.7 750.03,171.8 750.66,171.9 751.30,172.0 751.93,172.1 752.57,172.2 753.20,172.3 753.84,172.4 754.47,172.5 755.11,172.6 755.74,172.7 756.38,172.8 757.01,172.9 757.65,173.0 758.28,173.1 758.92,173.2 759.55,173.3 760.19,173.4 760.82,173.5 761.46,173.6 762.09,173.7 762.73,173.8 763.36,173.9 763.80,174.0" stroke="#000" stroke-width="3" marker-start="url(#mk)" marker-mid="url(#mk)" marker-end="url(#mk)"/>
</g>
<g stroke="#000" fill="none">
<line x1="125.05" y1="358.45" x2="129.05" y2="358.45" stroke-width="1.5"/>
<line x1="759.80" y1="358.45" x2="763.80" y2="358.45" stroke-width="1.5"/>
<line x1="125.05" y1="342.15" x2="129.05" y2="342.15" stroke-width="1.5"/>
<line x1="759.80" y1="342.15" x2="763.80" y2="342.15" stroke-width="1.5"/>
<line x1="125.05" y1="332.61" x2="129.05" y2="332.61" stroke-width="1.5"/>
<line x1="759.80" y1="332.61" x2="763.80" y2="332.61" stroke-width="1.5"/>
<line x1="125.05" y1="325.85" x2="129.05" y2="325.85" stroke-width="1.5"/>
<line x1="759.80" y1="325.85" x2="763.80" y2="325.85" stroke-width="1.5"/>
<line x1="125.05" y1="304.30" x2="129.05" y2="304.30" stroke-width="1.5"/>
<line x1="759.80" y1="304.30" x2="763.80" y2="304.30" stroke-width="1.5"/>
<line x1="125.05" y1="288.00" x2="129.05" y2="288.00" stroke-width="1.5"/>
<line x1="759.80" y1="288.00" x2="763.80" y2="288.00" stroke-width="1.5"/>
<line x1="125.05" y1="278.46" x2="129.05" y2="278.46" stroke-width="1.5"/>
<line x1="759.80" y1="278.46" x2="763.80" y2="278.46" stroke-width="1.5"/>
<line x1="125.05" y1="271.70" x2="129.05" y2="271.70" stroke-width="1.5"/>
<line x1="759.80" y1="271.70" x2="763.80" y2="271.70" stroke-width="1.5"/>
<line x1="125.05" y1="250.15" x2="129.05" y2="250.15" stroke-width="1.5"/>
<line x1="759.80" y1="250.15" x2="763.80" y2="250.15" stroke-width="1.5"/>
<line x1="125.05" y1="233.85" x2="129.05" y2="233.85" stroke-width="1.5"/>
<line x1="759.80" y1="233.85" x2="763.80" y2="233.85" stroke-width="1.5"/>
<line x1="125.05" y1="224.31" x2="129.05" y2="224.31" stroke-width="1.5"/>
<line x1="759.80" y1="224.31" x2="763.80" y2="224.31" stroke-width="1.5"/>
<line x1="125.05" y1="217.55" x2="129.05" y2="217.55" stroke-width="1.5"/>
<line x1="759.80" y1="217.55" x2="763.80" y2="217.55" stroke-width="1.5"/>
<line x1="125.05" y1="196.00" x2="129.05" y2="196.00" stroke-width="1.5"/>
<line x1="759.80" y1="196.00" x2="763.80" y2="196.00" stroke-width="1.5"/>
<line x1="125.05" y1="179.70" x2="129.05" y2="179.70" stroke-width="1.5"/>
<line x1="759.80" y1="179.70" x2="763.80" y2="179.70" stroke-width="1.5"/>
<line x1="125.05" y1="170.16" x2="129.05" y2="170.16" stroke-width="1.5"/>
<line x1="759.80" y1="170.16" x2="763.80" y2="170.16" stroke-width="1.5"/>
<line x1="125.05" y1="163.40" x2="129.05" y2="163.40" stroke-width="1.5"/>
<line x1="759.80" y1="163.40" x2="763.80" y2="163.40" stroke-width="1.5"/>
<line x1="125.05" y1="141.85" x2="129.05" y2="141.85" stroke-width="1.5"/>
<line x1="759.80" y1="141.85" x2="763.80" y2="141.85" stroke-width="1.5"/>
<line x1="125.05" y1="125.55" x2="129.05" y2="125.55" stroke-width="1.5"/>
<line x1="759.80" y1="125.55" x2="763.80" y2="125.55" stroke-width="1.5"/>
<line x1="125.05" y1="116.01" x2="129.05" y2="116.01" stroke-width="1.5"/>
<line x1="759.80" y1="116.01" x2="763.80" y2="116.01" stroke-width="1.5"/>
<line x1="125.05" y1="109.25" x2="129.05" y2="109.25" stroke-width="1.5"/>
<line x1="759.80" y1="109.25" x2="763.80" y2="109.25" stroke-width="1.5"/>
<line x1="125.05" y1="87.70" x2="129.05" y2="87.70" stroke-width="1.5"/>
<line x1="759.80" y1="87.70" x2="763.80" y2="87.70" stroke-width="1.5"/>
<line x1="125.05" y1="71.40" x2="129.05" y2="71.40" stroke-width="1.5"/>
<line x1="759.80" y1="71.40" x2="763.80" y2="71.40" stroke-width="1.5"/>
<line x1="125.05" y1="61.86" x2="129.05" y2="61.86" stroke-width="1.5"/>
<line x1="759.80" y1="61.86" x2="763.80" y2="61.86" stroke-width="1.5"/>
<line x1="125.05" y1="55.10" x2="129.05" y2="55.10" stroke-width="1.5"/>
<line x1="759.80" y1="55.10" x2="763.80" y2="55.10" stroke-width="1.5"/>
<line x1="125.05" y1="33.55" x2="129.05" y2="33.55" stroke-width="1.5"/>
<line x1="759.80" y1="33.55" x2="763.80" y2="33.55" stroke-width="1.5"/>
<line x1="125.05" y1="17.25" x2="129.05" y2="17.25" stroke-width="1.5"/>
<line x1="759.80" y1="17.25" x2="763.80" y2="17.25" stroke-width="1.5"/>
<line x1="125.05" y1="7.71" x2="129.05" y2="7.71" stroke-width="1.5"/>
<line x1="759.80" y1="7.71" x2="763.80" y2="7.71" stroke-width="1.5"/>
<line x1="125.05" y1="0.95" x2="129.05" y2="0.95" stroke-width="1.5"/>
<line x1="759.80" y1="0.95" x2="763.80" y2="0.95" stroke-width="1.5"/>
<line x1="120.05" y1="374.50" x2="129.05" y2="374.50" stroke-width="1.9"/>
<line x1="754.80" y1="374.50" x2="763.80" y2="374.50" stroke-width="1.9"/>
<line x1="120.05" y1="320.30" x2="129.05" y2="320.30" stroke-width="1.9"/>
<line x1="754.80" y1="320.30" x2="763.80" y2="320.30" stroke-width="1.9"/>
<line x1="120.05" y1="266.35" x2="129.05" y2="266.35" stroke-width="1.9"/>
<line x1="754.80" y1="266.35" x2="763.80" y2="266.35" stroke-width="1.9"/>
<line x1="120.05" y1="211.55" x2="129.05" y2="211.55" stroke-width="1.9"/>
<line x1="754.80" y1="211.55" x2="763.80" y2="211.55" stroke-width="1.9"/>
<line x1="120.05" y1="157.75" x2="129.05" y2="157.75" stroke-width="1.9"/>
<line x1="754.80" y1="157.75" x2="763.80" y2="157.75" stroke-width="1.9"/>
<line x1="120.05" y1="103.45" x2="129.05" y2="103.45" stroke-width="1.9"/>
<line x1="754.80" y1="103.45" x2="763.80" y2="103.45" stroke-width="1.9"/>
<line x1="120.05" y1="49.60" x2="129.05" y2="49.60" stroke-width="1.9"/>
<line x1="754.80" y1="49.60" x2="763.80" y2="49.60" stroke-width="1.9"/>
<line x1="129.05" y1="374.50" x2="129.05" y2="382.70" stroke-width="1.9"/>
<line x1="129.05" y1="0" x2="129.05" y2="9.50" stroke-width="1.9"/>
<line x1="154.44" y1="374.50" x2="154.44" y2="378.50" stroke-width="1.5"/>
<line x1="154.44" y1="0" x2="154.44" y2="4.90" stroke-width="1.5"/>
<line x1="179.83" y1="374.50" x2="179.83" y2="378.50" stroke-width="1.5"/>
<line x1="179.83" y1="0" x2="179.83" y2="4.90" stroke-width="1.5"/>
<line x1="205.22" y1="374.50" x2="205.22" y2="378.50" stroke-width="1.5"/>
<line x1="205.22" y1="0" x2="205.22" y2="4.90" stroke-width="1.5"/>
<line x1="230.61" y1="374.50" x2="230.61" y2="378.50" stroke-width="1.5"/>
<line x1="230.61" y1="0" x2="230.61" y2="4.90" stroke-width="1.5"/>
<line x1="256.00" y1="374.50" x2="256.00" y2="382.70" stroke-width="1.9"/>
<line x1="256.00" y1="0" x2="256.00" y2="9.50" stroke-width="1.9"/>
<line x1="281.39" y1="374.50" x2="281.39" y2="378.50" stroke-width="1.5"/>
<line x1="281.39" y1="0" x2="281.39" y2="4.90" stroke-width="1.5"/>
<line x1="306.78" y1="374.50" x2="306.78" y2="378.50" stroke-width="1.5"/>
<line x1="306.78" y1="0" x2="306.78" y2="4.90" stroke-width="1.5"/>
<line x1="332.17" y1="374.50" x2="332.17" y2="378.50" stroke-width="1.5"/>
<line x1="332.17" y1="0" x2="332.17" y2="4.90" stroke-width="1.5"/>
<line x1="357.56" y1="374.50" x2="357.56" y2="378.50" stroke-width="1.5"/>
<line x1="357.56" y1="0" x2="357.56" y2="4.90" stroke-width="1.5"/>
<line x1="382.95" y1="374.50" x2="382.95" y2="382.70" stroke-width="1.9"/>
<line x1="382.95" y1="0" x2="382.95" y2="9.50" stroke-width="1.9"/>
<line x1="408.34" y1="374.50" x2="408.34" y2="378.50" stroke-width="1.5"/>
<line x1="408.34" y1="0" x2="408.34" y2="4.90" stroke-width="1.5"/>
<line x1="433.73" y1="374.50" x2="433.73" y2="378.50" stroke-width="1.5"/>
<line x1="433.73" y1="0" x2="433.73" y2="4.90" stroke-width="1.5"/>
<line x1="459.12" y1="374.50" x2="459.12" y2="378.50" stroke-width="1.5"/>
<line x1="459.12" y1="0" x2="459.12" y2="4.90" stroke-width="1.5"/>
<line x1="484.51" y1="374.50" x2="484.51" y2="378.50" stroke-width="1.5"/>
<line x1="484.51" y1="0" x2="484.51" y2="4.90" stroke-width="1.5"/>
<line x1="509.90" y1="374.50" x2="509.90" y2="382.70" stroke-width="1.9"/>
<line x1="509.90" y1="0" x2="509.90" y2="9.50" stroke-width="1.9"/>
<line x1="535.29" y1="374.50" x2="535.29" y2="378.50" stroke-width="1.5"/>
<line x1="535.29" y1="0" x2="535.29" y2="4.90" stroke-width="1.5"/>
<line x1="560.68" y1="374.50" x2="560.68" y2="378.50" stroke-width="1.5"/>
<line x1="560.68" y1="0" x2="560.68" y2="4.90" stroke-width="1.5"/>
<line x1="586.07" y1="374.50" x2="586.07" y2="378.50" stroke-width="1.5"/>
<line x1="586.07" y1="0" x2="586.07" y2="4.90" stroke-width="1.5"/>
<line x1="611.46" y1="374.50" x2="611.46" y2="378.50" stroke-width="1.5"/>
<line x1="611.46" y1="0" x2="611.46" y2="4.90" stroke-width="1.5"/>
<line x1="636.85" y1="374.50" x2="636.85" y2="382.70" stroke-width="1.9"/>
<line x1="636.85" y1="0" x2="636.85" y2="9.50" stroke-width="1.9"/>
<line x1="662.24" y1="374.50" x2="662.24" y2="378.50" stroke-width="1.5"/>
<line x1="662.24" y1="0" x2="662.24" y2="4.90" stroke-width="1.5"/>
<line x1="687.63" y1="374.50" x2="687.63" y2="378.50" stroke-width="1.5"/>
<line x1="687.63" y1="0" x2="687.63" y2="4.90" stroke-width="1.5"/>
<line x1="713.02" y1="374.50" x2="713.02" y2="378.50" stroke-width="1.5"/>
<line x1="713.02" y1="0" x2="713.02" y2="4.90" stroke-width="1.5"/>
<line x1="738.41" y1="374.50" x2="738.41" y2="378.50" stroke-width="1.5"/>
<line x1="738.41" y1="0" x2="738.41" y2="4.90" stroke-width="1.5"/>
<line x1="763.80" y1="374.50" x2="763.80" y2="382.70" stroke-width="1.9"/>
<line x1="763.80" y1="0" x2="763.80" y2="9.50" stroke-width="1.9"/>
<rect x="129.05" y="0.70" width="634.75" height="373.80" stroke-width="1.8"/>
</g>
<rect x="128.1" y="196.6" width="1.9" height="2.6" fill="#ff0000"/><rect x="128.1" y="209.9" width="1.9" height="2.4" fill="#0000ff"/>
<g stroke-width="2.6" fill="none">
<line x1="180" y1="23" x2="206.3" y2="23" stroke="#ff0000"/>
<line x1="180" y1="62.6" x2="206.3" y2="62.6" stroke="#0000ff" stroke-width="2.2"/><rect x="191.6" y="61.1" width="3" height="3" fill="#0000ff" stroke="none"/>
<line x1="180" y1="106.4" x2="206.3" y2="106.4" stroke="#000" stroke-width="3.2"/><rect x="191.4" y="104.7" width="3.4" height="3.4" fill="#000" stroke="none"/>
</g>
<text><tspan x="209.00" y="32.50" font-size="36" textLength="149.76" lengthAdjust="spacingAndGlyphs">Measured</tspan> <tspan x="372.60" y="32.50" font-size="36" textLength="169.53" lengthAdjust="spacingAndGlyphs">impedance</tspan></text>
<text><tspan x="208.50" y="72.50" font-size="36" textLength="182.51" lengthAdjust="spacingAndGlyphs">Preliminary</tspan> <tspan x="407.09" y="72.50" font-size="36" textLength="96.54" lengthAdjust="spacingAndGlyphs">model</tspan> <tspan x="514.60" y="72.50" font-size="36" textLength="33.10" lengthAdjust="spacingAndGlyphs">fit</tspan></text>
<text><tspan x="208.49" y="117.00" font-size="36" textLength="80.06" lengthAdjust="spacingAndGlyphs">Final</tspan> <tspan x="301.39" y="117.00" font-size="36" textLength="96.54" lengthAdjust="spacingAndGlyphs">model</tspan> <tspan x="409.49" y="117.00" font-size="36" textLength="33.64" lengthAdjust="spacingAndGlyphs">fit</tspan></text>
<text><tspan x="316.00" y="437.50" font-size="39.5" textLength="170.26" lengthAdjust="spacingAndGlyphs">Frequency</tspan> <tspan x="508.00" y="437.50" font-size="39.5" textLength="112.15" lengthAdjust="spacingAndGlyphs">(MHz)</tspan></text>
<text><tspan x="114.77" y="410.00" font-size="39.5" textLength="52.32" lengthAdjust="spacingAndGlyphs">1.9</tspan></text>
<text><tspan x="242.52" y="410.00" font-size="39.5" textLength="50.75" lengthAdjust="spacingAndGlyphs">2.0</tspan></text>
<text><tspan x="369.24" y="410.00" font-size="39.5" textLength="50.66" lengthAdjust="spacingAndGlyphs">2.1</tspan></text>
<text><tspan x="495.89" y="410.00" font-size="39.5" textLength="52.20" lengthAdjust="spacingAndGlyphs">2.2</tspan></text>
<text><tspan x="622.88" y="410.00" font-size="39.5" textLength="51.29" lengthAdjust="spacingAndGlyphs">2.3</tspan></text>
<text><tspan x="749.84" y="410.00" font-size="39.5" textLength="50.18" lengthAdjust="spacingAndGlyphs">2.4</tspan></text>
<text transform="translate(30.00 310.90) rotate(-90)"><tspan x="0.00" y="0.00" font-size="40" textLength="188.58" lengthAdjust="spacingAndGlyphs">Impedance</tspan> <tspan x="201.89" y="0.00" font-size="40" textLength="57.52" lengthAdjust="spacingAndGlyphs">(Ω)</tspan></text>
<text><tspan x="43.92" y="383.90" font-size="40" textLength="41.96" lengthAdjust="spacingAndGlyphs">10</tspan><tspan x="85.06" y="369.50" font-size="31" textLength="38.45" lengthAdjust="spacingAndGlyphs">−2</tspan></text>
<text><tspan x="43.92" y="330.70" font-size="40" textLength="41.96" lengthAdjust="spacingAndGlyphs">10</tspan><tspan x="84.99" y="316.30" font-size="31" textLength="38.83" lengthAdjust="spacingAndGlyphs">−1</tspan></text>
<text><tspan x="43.92" y="276.75" font-size="40" textLength="41.96" lengthAdjust="spacingAndGlyphs">10</tspan><tspan x="85.06" y="262.35" font-size="31" textLength="14.82" lengthAdjust="spacingAndGlyphs">0</tspan></text>
<text><tspan x="43.92" y="221.95" font-size="40" textLength="41.96" lengthAdjust="spacingAndGlyphs">10</tspan><tspan x="86.46" y="207.55" font-size="31" textLength="12.21" lengthAdjust="spacingAndGlyphs">1</tspan></text>
<text><tspan x="43.92" y="168.15" font-size="40" textLength="41.96" lengthAdjust="spacingAndGlyphs">10</tspan><tspan x="84.99" y="153.75" font-size="31" textLength="15.96" lengthAdjust="spacingAndGlyphs">2</tspan></text>
<text><tspan x="43.92" y="113.85" font-size="40" textLength="41.96" lengthAdjust="spacingAndGlyphs">10</tspan><tspan x="83.98" y="99.45" font-size="31" textLength="16.06" lengthAdjust="spacingAndGlyphs">3</tspan></text>
<text><tspan x="43.92" y="60.00" font-size="40" textLength="41.96" lengthAdjust="spacingAndGlyphs">10</tspan><tspan x="84.64" y="45.60" font-size="31" textLength="14.67" lengthAdjust="spacingAndGlyphs">4</tspan></text>
</svg></body></html>
